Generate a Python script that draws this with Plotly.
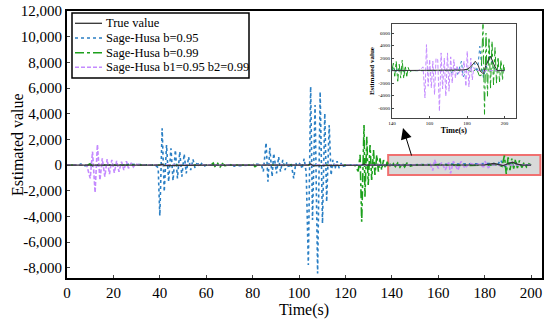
import plotly.graph_objects as go

# ---------------- main plot data ----------------
true_t = [0, 40, 41, 42, 60, 104, 105, 106, 127, 128, 129, 150, 160, 170, 180, 184, 186, 188, 190, 192, 194, 196, 200]
true_v = [0, 0, 60, -40, 0, 0, 80, -50, 0, 60, 0, 20, -20, 10, 20, 120, 60, -50, 100, 230, 80, 0, 0]

b95_t = [0, 5, 6, 7, 20, 25, 26, 38, 39.3, 40.0, 41.0, 41.9, 42.9, 43.8, 44.8, 45.7, 46.7, 47.6, 48.6,
         49.5, 50.5, 51.4, 52.4, 53.3, 54.3, 55.2, 56.2, 57, 58, 59, 60, 70, 71, 72, 80, 81, 83.8,
         84.6, 85.8, 86.6, 87.4, 88.4, 89.1, 90.3, 91.2, 92.0, 93.0, 94.0, 94.8, 95.6, 96.5, 97.7, 98.6,
         99.5, 100.5, 101.3, 102.2, 103.1, 104.0, 105.0, 105.8, 106.9, 108.0, 109.1, 110.1, 111.1, 111.9,
         113.0, 113.8, 114.6, 115.5, 116.4, 117.3, 118.2, 119, 121, 140, 184, 185.5, 186.8, 188.7, 191,
         192, 194, 196, 200]
b95_v = [0, 0, 80, -60, 0, 0, 60, 0, -200, -3950, 2860, -2080, 1560, -1300, 1300, -1220, 1170, -1040, 1040,
         -900, 860, -650, 650, -390, 440, -260, 260, -150, 120, -100, 0, 0, 100, -80, 0, 100, 0,
         -500, 1740, -1300, 1350, -910, 910, -650, 650, -520, 390, -390, 260, -250, 200, -1040, 150,
         -150, 200, -300, 500, -600, -7790, 6100, -4280, 4670, -8440, 5710, -4540, 4030, -2860,
         3110, -800, 400, -300, 300, -250, 150, -100, 0, 0, 120, -30, 390, -110, 150,
         230, 50, 0, 0]

b99_t = [0, 9, 10, 11, 12, 30, 62, 63, 64, 65, 66, 67, 68, 70, 79, 80, 81, 82, 124, 125.5, 126.3, 127.0,
         128.0, 128.4, 129.2, 129.8, 130.6, 131.3, 132.1, 132.7, 133.5, 134.2, 134.9, 135.6, 136.4, 137.2,
         138.0, 138.8, 139.6, 140.5, 141.5, 142.5, 143.5, 144.5, 145.5, 146.5, 148, 150, 160, 170, 180,
         186, 187.5, 188.5, 189.3, 190.1, 190.9, 191.7, 192.5, 193.3, 194.1, 195.0, 196.0, 197.0, 198.0,
         199.0, 200]
b99_v = [0, 0, 100, -80, 0, 0, 0, 150, -200, 120, -150, 100, -50, 0, 0, 100, -120, 0, 0, -500, 800, -4410,
         3110, -2470, 2200, -1560, 1560, -1170, 1170, -780, 780, -520, 520, -390, 390, -250, 250,
         -200, 180, 150, -120, 150, -170, 120, -150, 150, -80, 0, 30, -30, 0,
         0, -100, 740, -700, 600, -400, 500, -280, 450, -230, 350, -200, 200, -150,
         100, 0]

b2_t = [0, 8.5, 10.0, 11.0, 12.1, 13.1, 14.2, 15.2, 16.3, 17.3, 18.3, 19.3, 20.4, 21.4, 22.4, 23.5,
        24.5, 25.6, 26.5, 27.7, 28.6, 29.6, 31, 155, 156.6, 157.6, 158.4, 160.0, 161.5, 163.0, 164.5,
        165.3, 166.5, 168.5, 169.8, 171.5, 173.5, 176, 178.4, 179.4, 180.1, 181.5, 183, 200]
b2_v = [0, 0, -1040, 1040, -2150, 1600, -1170, 520, -910, 460, -700, 400, -600, 320, -520, 260,
        -390, 300, -260, 180, -150, 100, 0, 0, 60, -430, 400, -250, 200, -380, 200,
        -650, 280, -400, 280, -250, 150, 0, 150, -250, 300, -200, 0, 0]

# ---------------- inset data ----------------
in_true_t = [140, 150, 160, 170, 175, 178, 180, 182, 184.4, 186, 187, 188.7, 190, 192.4, 194, 196, 200]
in_true_v = [0, 0, 0, 0, 0, 100, 200, 600, 1500, 800, -100, -500, 800, 2300, 1200, 0, 0]

in_b95_t = [140, 141, 142, 143, 144, 145, 146, 148, 150, 170, 172, 174, 175, 176, 177, 178, 180, 182, 184,
            185.5, 186.8, 187.7, 188.7, 190, 191, 192, 193, 194, 196, 198, 200]
in_b95_v = [0, 600, -400, 500, -300, 300, -200, 100, 0, 0, -300, 300, -600, 500, 1500, -1000, 200, 300, 1200,
            -300, 3900, 1000, -1100, 300, 1500, 2300, 1600, 500, 0, 100, 0]

in_b99_t = [140, 140.8, 141.5, 142.3, 143.1, 143.9, 144.7, 145.5, 146.3, 147.1, 147.9, 148.7, 149.5, 150.5,
            155, 175, 180, 183, 185, 186.5, 187.5, 188.5, 189.3, 190.1, 190.9, 191.7, 192.5, 193.3, 194.1,
            194.9, 195.7, 196.5, 197.3, 198.1, 198.9, 199.5, 200]
in_b99_v = [0, 1200, -900, 1500, -1700, 1000, -1200, 1700, -1300, 800, -900, 500, -300, 0,
            0, 0, 200, -300, 400, -800, -800, 7400, -7000, 6000, -4100, 5300, -2800, 4700, -2300,
            3700, -2000, 2200, -1800, 1700, -1500, 1000, 0]

in_b2_t = [140, 154, 155.5, 156.6, 157.6, 158.4, 159.3, 160.1, 161.0, 161.8, 162.7, 163.5, 164.4, 165.3,
           166.2, 167.0, 167.9, 168.7, 169.6, 170.4, 171.3, 172.1, 173.0, 173.8, 174.7, 175.5, 176.5,
           177.5, 178.4, 179.4, 180.1, 181.0, 182.0, 182.8, 183.6, 184.5, 200]
in_b2_v = [0, 0, 300, 600, -4370, 4160, -2500, 1800, -2770, 1500, -3840, 2000, 1760, -6510,
           2830, -2930, 2000, -4100, 2830, -3300, 2200, -2000, 1760, -1200, 800, -500, 300,
           -800, 1500, -2510, 3090, -2600, 2000, -1500, 500, 0, 0]

names = ["True value", "Sage-Husa b=0.95", "Sage-Husa b=0.99", "Sage-Husa b1=0.95 b2=0.99"]
colors = ["#333333", "#2a7fc4", "#1ca01c", "#c48aff"]
dashes = ["solid", "dot", "dashdot", "4px,2px"]

main_yticks = [-8000, -6000, -4000, -2000, 0, 2000, 4000, 6000, 8000, 10000, 12000]
main_xticks = [0, 20, 40, 60, 80, 100, 120, 140, 160, 180, 200]
inset_yticks = [-6000, -4000, -2000, 0, 2000, 4000, 6000]
inset_xticks = [140, 160, 180, 200]

FONT = "Liberation Serif"
L, R, T, B = 67, 8, 11, 45
W, H = 550, 323
PW, PH = W - L - R, H - T - B


def px(xp):
    return (xp - L) / PW


def py(yp):
    return (H - B - yp) / PH


fig = go.Figure()
main_sets = [(true_t, true_v), (b95_t, b95_v), (b99_t, b99_v), (b2_t, b2_v)]
inset_sets = [(in_true_t, in_true_v), (in_b95_t, in_b95_v), (in_b99_t, in_b99_v), (in_b2_t, in_b2_v)]
order = [1, 2, 3, 0]
for i in order:
    t, v = main_sets[i]
    fig.add_trace(go.Scatter(x=t, y=v, mode="lines", name=names[i], showlegend=False,
                             line=dict(color=colors[i], dash=dashes[i], width=1.6 if i else 1.3),
                             xaxis="x", yaxis="y"))
for i in order:
    t, v = inset_sets[i]
    fig.add_trace(go.Scatter(x=t, y=v, mode="lines", showlegend=False,
                             line=dict(color=colors[i], dash=dashes[i], width=1.0),
                             xaxis="x2", yaxis="y2"))


def fmt(v):
    s = f"{abs(v):,}"
    return ("-" if v < 0 else "") + s


fig.update_layout(
    width=W, height=H,
    margin=dict(l=L, r=R, t=T, b=B),
    paper_bgcolor="white", plot_bgcolor="white",
    font=dict(family=FONT, color="black", size=15),
    xaxis=dict(domain=[0, 1], range=[0, 204.7], tickvals=main_xticks, ticks="inside", ticklen=3,
               showline=True, linecolor="black", linewidth=2, mirror=True, showgrid=False, zeroline=False,
               automargin=False, tickfont=dict(size=15)),
    yaxis=dict(domain=[0, 1], range=[-8800, 12000], tickvals=main_yticks,
               ticktext=[fmt(v) for v in main_yticks], ticks="inside", ticklen=3,
               showline=True, linecolor="black", linewidth=2, mirror=True, showgrid=False, zeroline=False,
               automargin=False, tickfont=dict(size=15)),
    xaxis2=dict(domain=[0.684, 0.945], anchor="y2", range=[140, 206], tickvals=inset_xticks,
                ticks="inside", ticklen=2, showline=True, linecolor="#444", linewidth=1, mirror=True,
                showgrid=False, zeroline=False, tickfont=dict(size=5), automargin=False,
                title=dict(text="<b>Time(s)</b>", font=dict(size=8), standoff=2)),
    yaxis2=dict(domain=[0.599, 0.951], anchor="x2", range=[-7600, 7450], tickvals=inset_yticks,
                ticktext=[("-" if v < 0 else "") + str(abs(v)) for v in inset_yticks],
                ticks="inside", ticklen=2, showline=True, linecolor="#444", linewidth=1, mirror=True,
                showgrid=False, zeroline=False, tickfont=dict(size=5), automargin=False,
                title=dict(text="<b>Estimated value</b>", font=dict(size=7), standoff=2)),
    showlegend=False,
)

# main axis titles
fig.add_annotation(xref="paper", yref="paper", x=px(304), y=py(310), text="Time(s)", showarrow=False,
                   xanchor="center", yanchor="middle", font=dict(family=FONT, size=16, color="black"))
fig.add_annotation(xref="paper", yref="paper", x=px(17), y=py(145), text="Estimated value", showarrow=False,
                   textangle=-90, xanchor="center", yanchor="middle",
                   font=dict(family=FONT, size=16, color="black"))

# highlighted zoom region
fig.add_shape(type="rect", xref="x", yref="y", x0=138.4, x1=204, y0=-780, y1=780,
              fillcolor="#d9d9d9", line=dict(color="#f07070", width=2), layer="below")

# arrow from zoom region to inset
fig.add_annotation(xref="paper", yref="paper", x=px(403), y=py(128),
                   ax=9, ay=29, text="", showarrow=True, arrowhead=2, arrowsize=2.2,
                   arrowwidth=1, arrowcolor="black", standoff=0)

# legend (box, line samples, labels)
fig.add_shape(type="rect", xref="paper", yref="paper", x0=px(72), x1=px(249), y0=py(78), y1=py(13),
              fillcolor="white", line=dict(color="black", width=1.5), layer="above")
leg_y = [23.3, 38, 52.7, 67.3]
for i in range(4):
    fig.add_shape(type="line", xref="paper", yref="paper", x0=px(75), x1=px(102),
                  y0=py(leg_y[i]), y1=py(leg_y[i]),
                  line=dict(color=colors[i], dash=dashes[i], width=1.6 if i else 1.3), layer="above")
    fig.add_annotation(xref="paper", yref="paper", x=px(104), y=py(leg_y[i]), text=names[i],
                       showarrow=False, xanchor="left", yanchor="middle",
                       font=dict(family=FONT, size=12.5, color="black"))

fig.write_html("out.html", config={"displayModeBar": False},
               post_script="document.body.style.margin='0px';")
